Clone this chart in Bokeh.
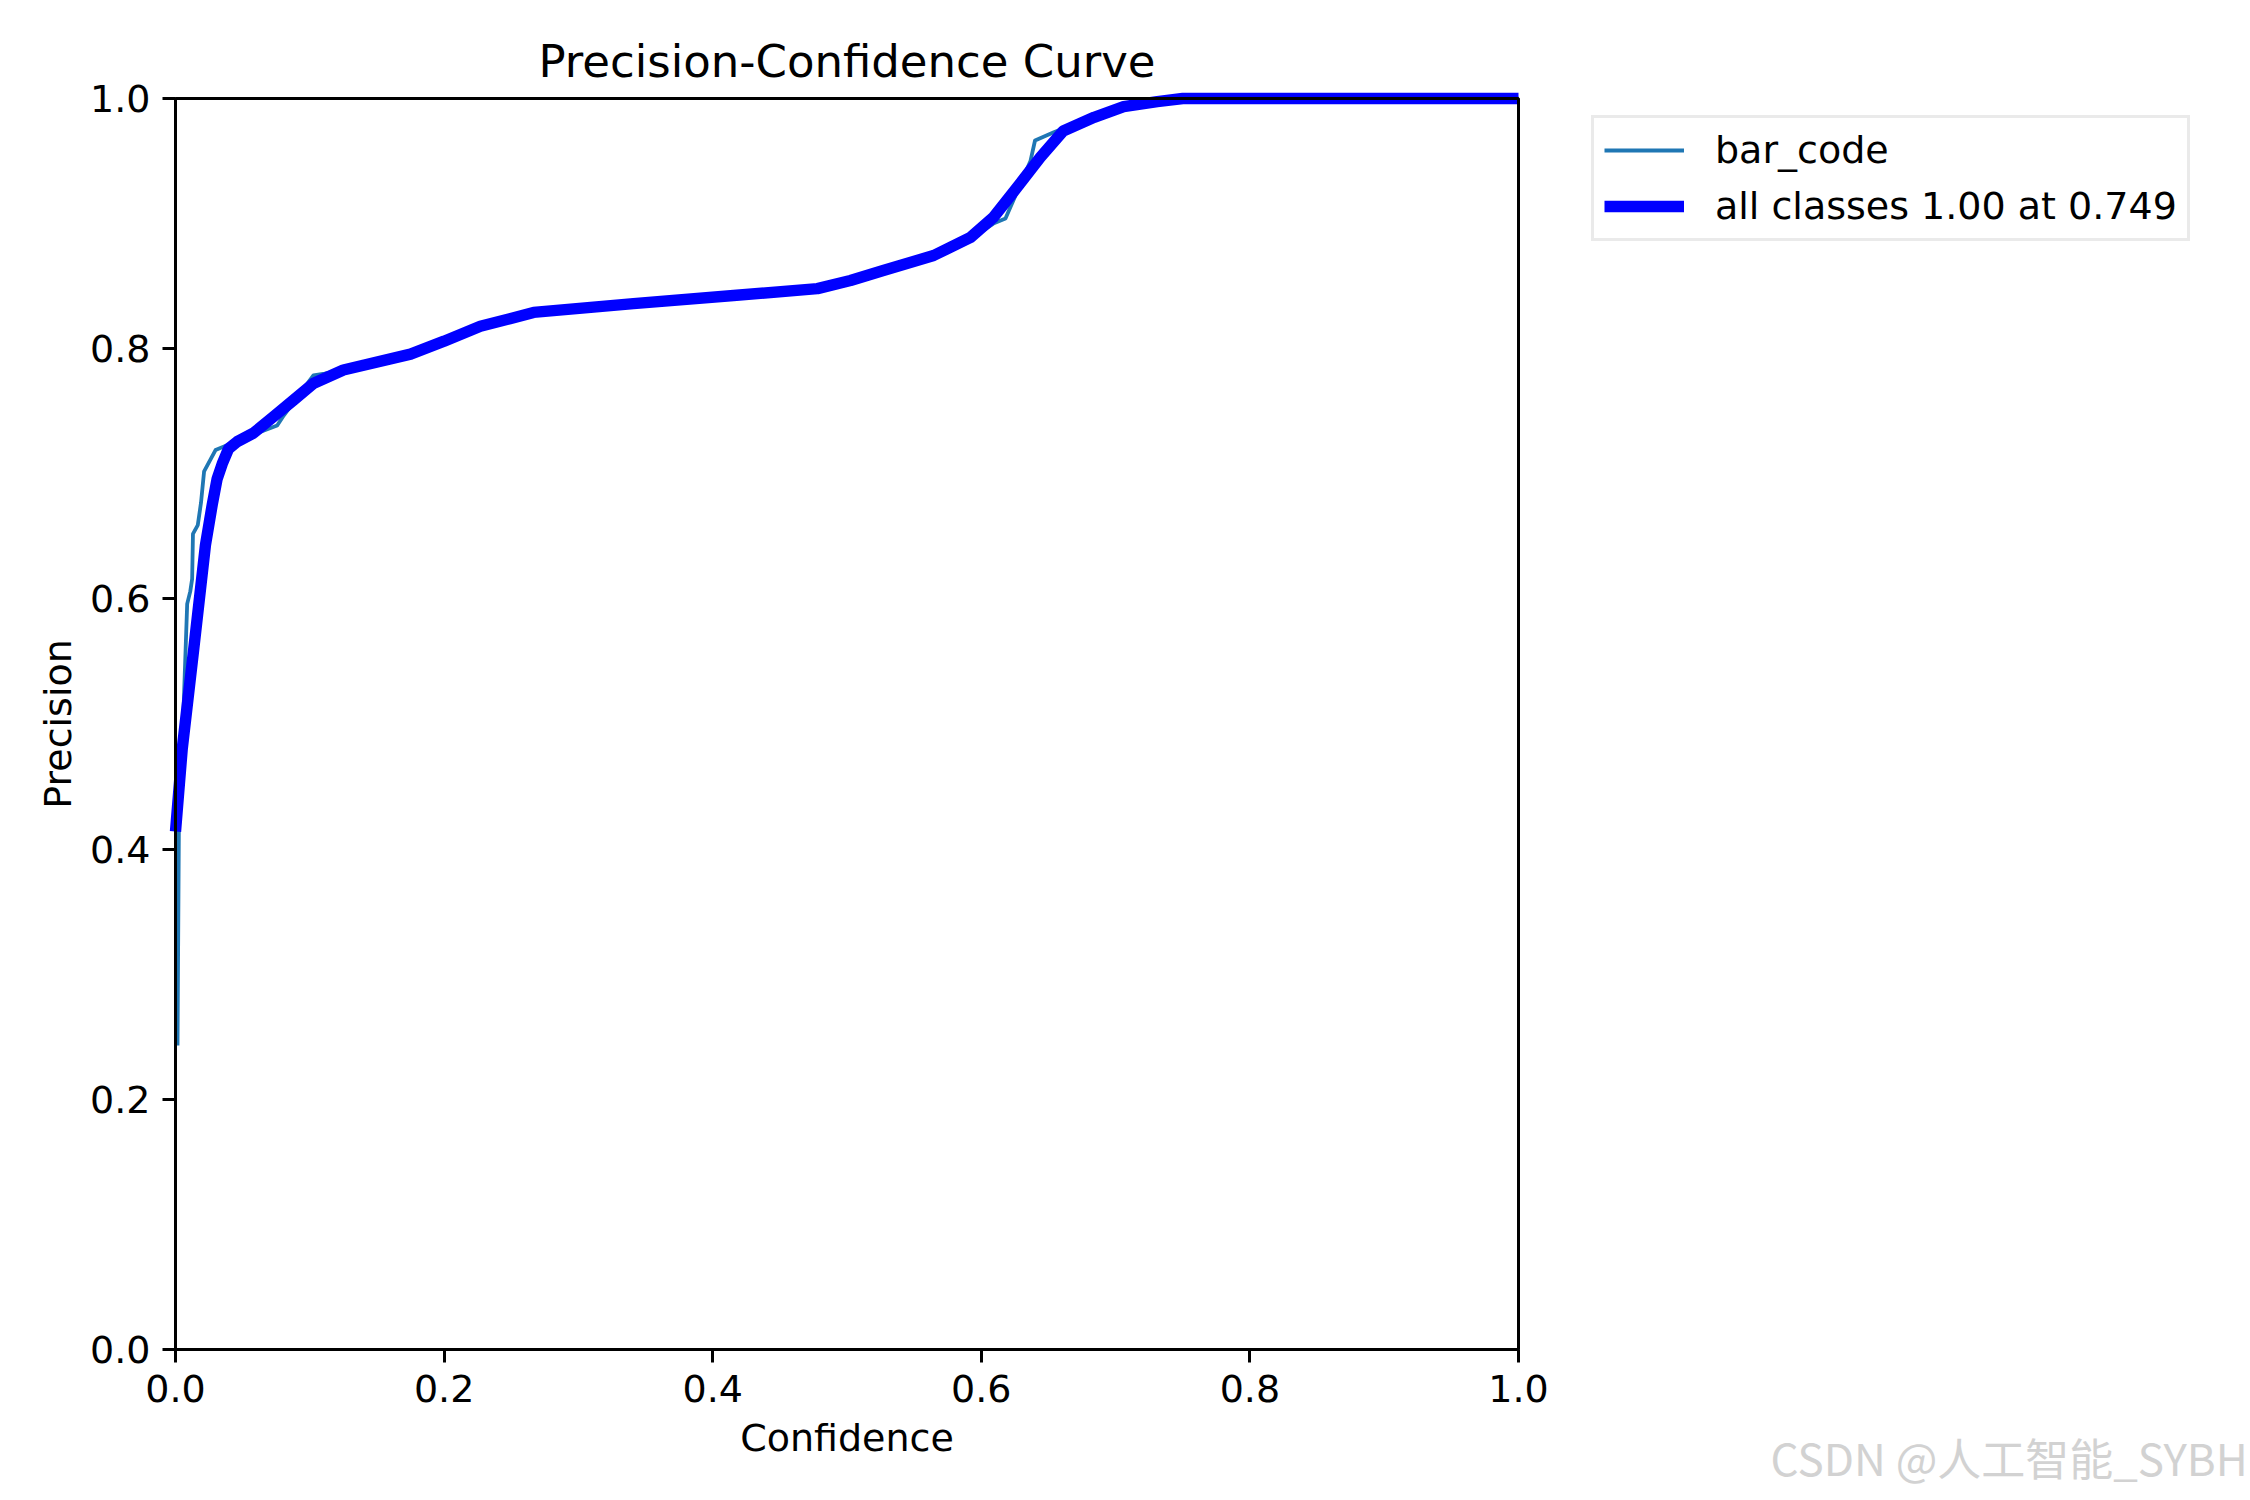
from bokeh.plotting import figure
from bokeh.models import (Range1d, FixedTicker, NumeralTickFormatter, Legend, Label,
                          BoxAnnotation)
from bokeh.embed import file_html
from bokeh.resources import INLINE

# ---- data ----
all_conf = [0.0, 0.005, 0.0137, 0.0223, 0.0273, 0.031, 0.0348, 0.0395, 0.046, 0.058,
            0.073, 0.088, 0.103, 0.125, 0.175, 0.2, 0.227, 0.249, 0.2666, 0.341,
            0.4155, 0.478, 0.5026, 0.527, 0.5645, 0.592, 0.609, 0.6267, 0.644, 0.661,
            0.684, 0.706, 0.731, 0.75, 1.0]
all_prec = [0.414, 0.48, 0.561, 0.643, 0.675, 0.696, 0.708, 0.72, 0.7257, 0.7325,
            0.7457, 0.759, 0.7724, 0.783, 0.7957, 0.806, 0.818, 0.824, 0.829, 0.836,
            0.8425, 0.848, 0.8545, 0.8625, 0.8745, 0.889, 0.905, 0.929, 0.953, 0.974,
            0.985, 0.9935, 0.9975, 1.0, 1.0]

bar_conf = [0.0015, 0.0025, 0.006, 0.0087, 0.011, 0.0124, 0.013, 0.0166, 0.019, 0.0213,
            0.0298, 0.0447, 0.062, 0.0757, 0.0807, 0.1027, 0.111, 0.125, 0.175, 0.2,
            0.227, 0.249, 0.2666, 0.341, 0.4155, 0.478, 0.5026, 0.527, 0.5645, 0.598,
            0.609, 0.618, 0.6366, 0.640, 0.654, 0.661, 0.684, 0.706, 0.731, 0.75, 1.0]
bar_prec = [0.243, 0.414, 0.512, 0.596, 0.606, 0.616, 0.652, 0.659, 0.677, 0.702,
            0.719, 0.7256, 0.733, 0.7386, 0.7468, 0.7786, 0.780, 0.783, 0.7957, 0.806,
            0.818, 0.824, 0.829, 0.836, 0.8425, 0.848, 0.8545, 0.8625, 0.8745, 0.892,
            0.900, 0.904, 0.95, 0.9664, 0.973, 0.976, 0.985, 0.9935, 0.9975, 1.0, 1.0]

ticks = [0.0, 0.2, 0.4, 0.6, 0.8, 1.0]
title_text = "Precision-Confidence Curve"
x_label = "Confidence"
y_label = "Precision"
series_names = ["bar_code", "all classes 1.00 at 0.749"]
watermark = "CSDN @人工智能_SYBH"

FONT = "DejaVu Sans"

# ---- layout (pixels) ----
W, H = 2248, 1496
AX_LEFT, AX_TOP = 175, 98        # top-left corner of the axes box on the canvas
AX_W, AX_H = 1343, 1251          # size of the axes box (0..1 x 0..1)
x_start = -AX_LEFT / AX_W
x_end = (W - AX_LEFT) / AX_W
y_end = 1.0 + AX_TOP / AX_H
y_start = y_end - H / AX_H

p = figure(width=W, height=H, output_backend="svg", toolbar_location=None,
           x_range=Range1d(x_start, x_end), y_range=Range1d(y_start, y_end),
           min_border_left=0, min_border_right=0, min_border_top=0, min_border_bottom=0)

p.grid.visible = False
p.outline_line_color = None

for ax in (p.xaxis[0], p.yaxis[0]):
    ax.ticker = FixedTicker(ticks=ticks)
    ax.formatter = NumeralTickFormatter(format="0.0")
    ax.bounds = (0, 1)
    ax.fixed_location = 0
    ax.axis_line_color = "black"
    ax.axis_line_width = 3
    ax.major_tick_out = 13
    ax.major_tick_in = 0
    ax.major_tick_line_width = 3
    ax.minor_tick_out = 0
    ax.minor_tick_in = 0
    ax.major_label_text_font = FONT
    ax.major_label_text_font_size = "38px"
    ax.major_label_text_color = "black"
    ax.major_label_standoff = 12
    ax.axis_label_text_font = FONT
    ax.axis_label_text_font_size = "38px"
    ax.axis_label_text_font_style = "normal"
    ax.axis_label_text_color = "black"

p.xaxis.axis_label = x_label
p.yaxis.axis_label = y_label
p.xaxis.axis_label_standoff = 11
p.yaxis.axis_label_standoff = 7

# axes box (spines)
p.add_layout(BoxAnnotation(left=0, right=1, bottom=0, top=1, fill_alpha=0,
                           line_color="black", line_alpha=1.0, line_width=3))

r1 = p.line(bar_conf, bar_prec, line_color="#1f77b4", line_width=3.8, line_join="round")
r2 = p.line(all_conf, all_prec, line_color="#0000ff", line_width=11.4, line_join="round")

# title, centred over the axes box
p.add_layout(Label(x=0.5, y=1.0296, text=title_text, text_font=FONT,
                   text_font_size="45px", text_color="black",
                   text_align="center", text_baseline="alphabetic"))

legend = Legend(items=[(series_names[0], [r1]), (series_names[1], [r2])],
                location=(1591, H - 241))
legend.label_text_font = FONT
legend.label_text_font_size = "38px"
legend.label_text_color = "black"
legend.glyph_width = 80
legend.glyph_height = 44
legend.label_height = 44
legend.label_standoff = 31
legend.padding = 10
legend.spacing = 12
legend.margin = 0
legend.border_line_color = "#d5d5d5"
legend.border_line_width = 3
legend.background_fill_color = "white"
legend.background_fill_alpha = 1.0
p.add_layout(legend, "center")

wm = Label(x=1.1877, y=-0.0863, text=watermark, text_font="Noto Sans CJK SC",
           text_font_size="44px", text_color="#d2d2d2", text_baseline="middle")
p.add_layout(wm)

open("out.html", "w").write(file_html(p, INLINE))
